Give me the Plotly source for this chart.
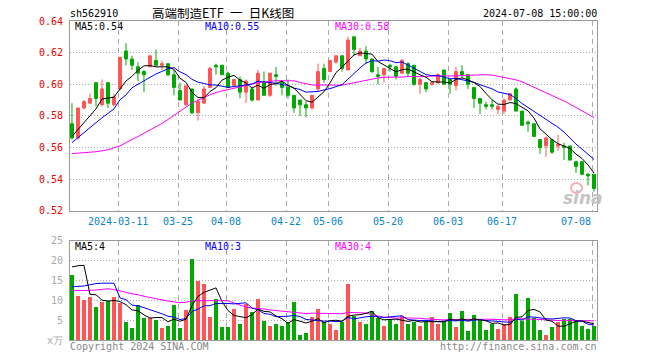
import numpy as np
import pandas as pd
import plotly.graph_objects as go

# ---------------- data ----------------
holidays = ["2024-04-04", "2024-04-05", "2024-05-01", "2024-05-02", "2024-05-03", "2024-06-10"]
dates = [d.strftime("%Y-%m-%d") for d in pd.bdate_range("2024-02-28", "2024-07-08")
         if d.strftime("%Y-%m-%d") not in holidays]

tick_dates = ["2024-03-11", "2024-03-25", "2024-04-08", "2024-04-22", "2024-05-06",
              "2024-05-20", "2024-06-03", "2024-06-17", "2024-07-08"]
tick_text = ["2024-03-11", "03-25", "04-08", "04-22", "05-06", "05-20", "06-03", "06-17", "07-08"]

open_ = [0.575, 0.566, 0.585, 0.588, 0.601, 0.587, 0.601, 0.587, 0.597, 0.621,
         0.616, 0.611, 0.608, 0.611, 0.615, 0.612, 0.613, 0.606, 0.596, 0.587,
         0.597, 0.582, 0.588, 0.598, 0.612, 0.612, 0.607, 0.599, 0.603, 0.595,
         0.597, 0.590, 0.601, 0.593, 0.606, 0.601, 0.598, 0.593, 0.590, 0.587,
         0.585, 0.597, 0.610, 0.608, 0.614, 0.618, 0.609, 0.630, 0.618, 0.621,
         0.616, 0.606, 0.606, 0.612, 0.611, 0.607, 0.613, 0.612, 0.600, 0.601,
         0.600, 0.601, 0.609, 0.603, 0.599, 0.608, 0.606, 0.598, 0.591, 0.587,
         0.587, 0.584, 0.583, 0.590, 0.597, 0.583, 0.576, 0.575, 0.565, 0.561,
         0.565, 0.561, 0.561, 0.561, 0.551, 0.551, 0.543, 0.543]
high = [0.588, 0.585, 0.590, 0.594, 0.601, 0.603, 0.601, 0.594, 0.617, 0.626,
        0.618, 0.614, 0.609, 0.618, 0.622, 0.615, 0.613, 0.609, 0.601, 0.599,
        0.597, 0.591, 0.599, 0.611, 0.613, 0.612, 0.608, 0.603, 0.605, 0.603,
        0.598, 0.609, 0.608, 0.607, 0.611, 0.602, 0.603, 0.593, 0.590, 0.589,
        0.593, 0.613, 0.613, 0.615, 0.618, 0.618, 0.630, 0.630, 0.623, 0.624,
        0.616, 0.611, 0.610, 0.613, 0.611, 0.616, 0.614, 0.612, 0.604, 0.601,
        0.602, 0.607, 0.609, 0.604, 0.611, 0.612, 0.606, 0.598, 0.591, 0.589,
        0.590, 0.587, 0.591, 0.594, 0.598, 0.583, 0.577, 0.575, 0.565, 0.567,
        0.565, 0.568, 0.563, 0.561, 0.551, 0.551, 0.544, 0.543]
low = [0.565, 0.565, 0.584, 0.588, 0.586, 0.586, 0.585, 0.586, 0.596, 0.612,
       0.609, 0.602, 0.595, 0.611, 0.612, 0.609, 0.605, 0.593, 0.590, 0.586,
       0.581, 0.577, 0.588, 0.598, 0.606, 0.606, 0.598, 0.599, 0.591, 0.588,
       0.589, 0.590, 0.593, 0.592, 0.599, 0.593, 0.591, 0.582, 0.580, 0.579,
       0.584, 0.595, 0.601, 0.608, 0.613, 0.608, 0.609, 0.618, 0.618, 0.613,
       0.607, 0.600, 0.601, 0.608, 0.603, 0.607, 0.605, 0.599, 0.594, 0.595,
       0.599, 0.600, 0.600, 0.594, 0.596, 0.604, 0.597, 0.585, 0.581, 0.584,
       0.584, 0.581, 0.581, 0.590, 0.583, 0.574, 0.570, 0.567, 0.556, 0.554,
       0.556, 0.558, 0.552, 0.552, 0.544, 0.543, 0.536, 0.532]
close = [0.566, 0.585, 0.589, 0.591, 0.591, 0.597, 0.588, 0.592, 0.617, 0.616,
         0.612, 0.607, 0.606, 0.618, 0.612, 0.613, 0.606, 0.598, 0.590, 0.599,
         0.582, 0.589, 0.597, 0.610, 0.611, 0.606, 0.598, 0.603, 0.595, 0.602,
         0.590, 0.607, 0.593, 0.607, 0.605, 0.598, 0.593, 0.585, 0.587, 0.585,
         0.593, 0.608, 0.603, 0.615, 0.618, 0.610, 0.628, 0.622, 0.621, 0.616,
         0.608, 0.605, 0.610, 0.611, 0.605, 0.615, 0.607, 0.600, 0.603, 0.597,
         0.601, 0.606, 0.600, 0.600, 0.608, 0.606, 0.600, 0.591, 0.588, 0.586,
         0.586, 0.586, 0.590, 0.594, 0.583, 0.574, 0.575, 0.567, 0.560, 0.566,
         0.557, 0.562, 0.560, 0.552, 0.548, 0.543, 0.542, 0.534]
volume = [16.4, 11.1, 10.1, 10.9, 8.4, 9.7, 9.9, 10.9, 9.5, 4.5,
          3.0, 8.9, 5.7, 5.6, 5.1, 3.0, 3.6, 8.9, 3.0, 7.6,
          20.4, 14.9, 14.1, 5.9, 10.3, 3.4, 3.4, 7.9, 4.2, 9.2,
          7.2, 10.5, 4.9, 3.6, 4.2, 3.6, 4.7, 9.7, 1.4, 1.95,
          5.9, 7.9, 4.5, 4.0, 2.6, 4.6, 14.1, 6.1, 4.5, 4.2,
          7.4, 5.7, 3.6, 5.4, 4.2, 6.0, 4.2, 4.7, 3.6, 4.7,
          5.9, 4.0, 4.7, 6.9, 3.4, 7.4, 2.4, 6.4, 5.4, 2.6,
          4.1, 2.9, 4.0, 5.9, 11.6, 4.9, 10.6, 5.6, 2.6, 1.4,
          3.4, 4.5, 5.4, 5.4, 4.9, 3.6, 2.9, 3.6]

# moving-average values before the window fills
ma5_head = [0.567, 0.5715, 0.5756, 0.5798]
ma10_head = [0.5631, 0.5663, 0.5694, 0.5725, 0.5756, 0.5788, 0.5815, 0.5844, 0.5902]
ma30_head = [0.5561, 0.5563, 0.5565, 0.5569, 0.5573, 0.5579, 0.5585, 0.5598, 0.5610, 0.5631,
             0.5648, 0.5669, 0.5690, 0.5710, 0.5731, 0.5752, 0.5777, 0.5802, 0.5829, 0.5856,
             0.5881, 0.5898, 0.5913, 0.5933, 0.5948, 0.5958, 0.5969, 0.5975, 0.5983]
vma5_head = [18.4, 18.7, 18.8, 11.5]
vma10_head = [13.4, 13.5, 13.6, 13.9, 14.2, 14.3, 14.3, 14.3, 10.6]
vma30_head = [12.4, 12.4, 12.5, 12.5, 12.6, 12.7, 12.9, 12.7, 12.4, 12.0,
              11.6, 11.4, 11.0, 10.7, 10.3, 10.0, 9.8, 9.6, 9.4, 9.5,
              9.8, 9.9, 9.9, 9.9, 9.9, 9.9, 9.9, 9.3, 8.8]

price_ticks = [0.52, 0.54, 0.56, 0.58, 0.60, 0.62, 0.64]
vol_ticks = [0, 5, 10, 15, 20, 25]
vol_tick_text = ["x万", "5", "10", "15", "20", "25"]


def moving(values, n, head):
    s = pd.Series(values, dtype=float).rolling(n).mean()
    s.iloc[:n - 1] = head
    return s.tolist()


ma5 = moving(close, 5, ma5_head)
ma10 = moving(close, 10, ma10_head)
ma30 = moving(close, 30, ma30_head)
vma5 = moving(volume, 5, vma5_head)
vma10 = moving(volume, 10, vma10_head)
vma30 = moving(volume, 30, vma30_head)

# ---------------- styling ----------------
RED = "#ff5555"
GREEN = "#00a800"
BLUE = "#0000ff"
MAG = "#ff00ff"
MONO = "DejaVu Sans Mono"
BORDER = "#999999"
GRID = "#aaaaaa"

# the page body adds an 8px offset; window coordinates below are in the 660x360 window
OFF = 8
FIG_W, FIG_H = 660 - OFF, 360 - OFF
PL, PR, PT, PB = 70, 597, 21, 340          # plot area in window pixels
L, R, T, B = PL - OFF, FIG_W - (PR - OFF), PT - OFF, FIG_H - (PB - OFF)
W, H = PR - PL, PB - PT


def px(x):
    return (x - PL) / W


def py(y):
    return (PB - y) / H


idx = list(range(len(dates)))
grid_pos = [dates.index(d) - 0.28 for d in tick_dates]
xr = [-0.33, len(dates) - 0.5]

fig = go.Figure()
fig.add_trace(go.Candlestick(
    x=idx, open=open_, high=high, low=low, close=close,
    increasing=dict(line=dict(color=RED, width=1), fillcolor=RED),
    decreasing=dict(line=dict(color=GREEN, width=1), fillcolor=GREEN),
    whiskerwidth=0, showlegend=False, hoverinfo="skip", xaxis="x", yaxis="y"))
for series, col in [(ma30, MAG), (ma10, BLUE), (ma5, "black")]:
    fig.add_trace(go.Scatter(x=idx, y=series, mode="lines", line=dict(color=col, width=1),
                             showlegend=False, hoverinfo="skip", xaxis="x", yaxis="y"))

vol_colors = [RED if c >= o else GREEN for o, c in zip(open_, close)]
fig.add_trace(go.Bar(x=idx, y=volume, marker=dict(color=vol_colors, line=dict(width=0)),
                     width=0.78, showlegend=False, hoverinfo="skip", xaxis="x2", yaxis="y2"))
for series, col in [(vma30, MAG), (vma10, BLUE), (vma5, "black")]:
    fig.add_trace(go.Scatter(x=idx, y=series, mode="lines", line=dict(color=col, width=1),
                             showlegend=False, hoverinfo="skip", xaxis="x2", yaxis="y2"))

xcommon = dict(range=xr, tickvals=grid_pos, showticklabels=False, ticks="",
               showgrid=True, gridcolor=GRID, griddash="5px,4px", gridwidth=1,
               zeroline=False, showline=True, linecolor=BORDER, linewidth=1, mirror=True,
               rangeslider=dict(visible=False), fixedrange=True)
fig.update_layout(
    width=FIG_W, height=FIG_H,
    margin=dict(l=L, r=R, t=T, b=B, autoexpand=False),
    paper_bgcolor="white", plot_bgcolor="white",
    boxgap=0.3, bargap=0,
    font=dict(family=MONO, size=10, color="black"),
    xaxis=dict(domain=[0, 1], anchor="y", **xcommon),
    xaxis2=dict(domain=[0, 1], anchor="y2", **xcommon),
    yaxis=dict(domain=[py(210.7), 1], range=[0.52, 0.64], tickvals=price_ticks,
               ticktext=[f"{v:.2f}" for v in price_ticks],
               tickfont=dict(family=MONO, size=10, color="#ee0000"),
               ticks="", ticklabelstandoff=4,
               showgrid=True, gridcolor=GRID, griddash="1px,2px", gridwidth=1,
               zeroline=False, showline=True, linecolor=BORDER, linewidth=1, mirror=True,
               fixedrange=True),
    yaxis2=dict(domain=[0, py(240.7)], range=[0, 25], tickvals=vol_ticks, ticktext=vol_tick_text,
                tickfont=dict(family=MONO, size=10, color="#aaaaaa"),
                ticks="", ticklabelstandoff=4,
                showgrid=True, gridcolor=GRID, griddash="1px,2px", gridwidth=1,
                zeroline=False, showline=True, linecolor=BORDER, linewidth=1, mirror=True,
                fixedrange=True),
)

ann = []


def text(x, y, s, color="black", xanchor="left", size=10, family=MONO, **kw):
    ann.append(dict(x=px(x), y=py(y), xref="paper", yref="paper", text=s, showarrow=False,
                    xanchor=xanchor, yanchor="middle", borderpad=0,
                    font=dict(family=family, size=size, color=color, **kw)))


text(69, 13, "sh562910")
text(222.5, 12.8, "高端制造ETF\u2002一\u2002日K线图", xanchor="center", size=12.5,
     family="Noto Sans CJK SC")
text(598, 13, "2024-07-08 15:00:00", xanchor="right")
text(74, 26.5, f"MA5:{ma5[-1]:.2f}")
text(204, 26.5, f"MA10:{ma10[-1]:.2f}", color=BLUE)
text(334, 26.5, f"MA30:{ma30[-1]:.2f}", color=MAG)
text(74, 246.5, f"MA5:{int(vma5[-1])}")
text(204, 246.5, f"MA10:{int(vma10[-1])}", color=BLUE)
text(334, 246.5, f"MA30:{int(vma30[-1])}", color=MAG)
text(69, 346, "Copyright 2024 SINA.COM", color="#888888")
text(598, 346, "http://finance.sina.com.cn", color="#888888", xanchor="right")

for d, lab in zip(tick_dates, tick_text):
    gx = dates.index(d) - 0.28
    last = d == tick_dates[-1]
    ann.append(dict(x=gx, y=py(221.5), xref="x", yref="paper", text=lab, showarrow=False,
                    xanchor="right" if last else "center", yanchor="middle", borderpad=0,
                    font=dict(family=MONO, size=10, color="#0a84c8")))

# sina watermark
ann.append(dict(x=px(583), y=py(198), xref="paper", yref="paper", text="sina", showarrow=False,
                xanchor="center", yanchor="middle",
                font=dict(family="DejaVu Sans", size=17, color="#c4c4c4", weight="bold", style="italic")))
fig.update_layout(annotations=ann)
fig.add_shape(type="circle", xref="paper", yref="paper",
              x0=px(571), x1=px(582), y0=py(193), y1=py(183),
              line=dict(color="#f3b0b0", width=2), fillcolor="rgba(0,0,0,0)")

fig.write_html("out.html")
